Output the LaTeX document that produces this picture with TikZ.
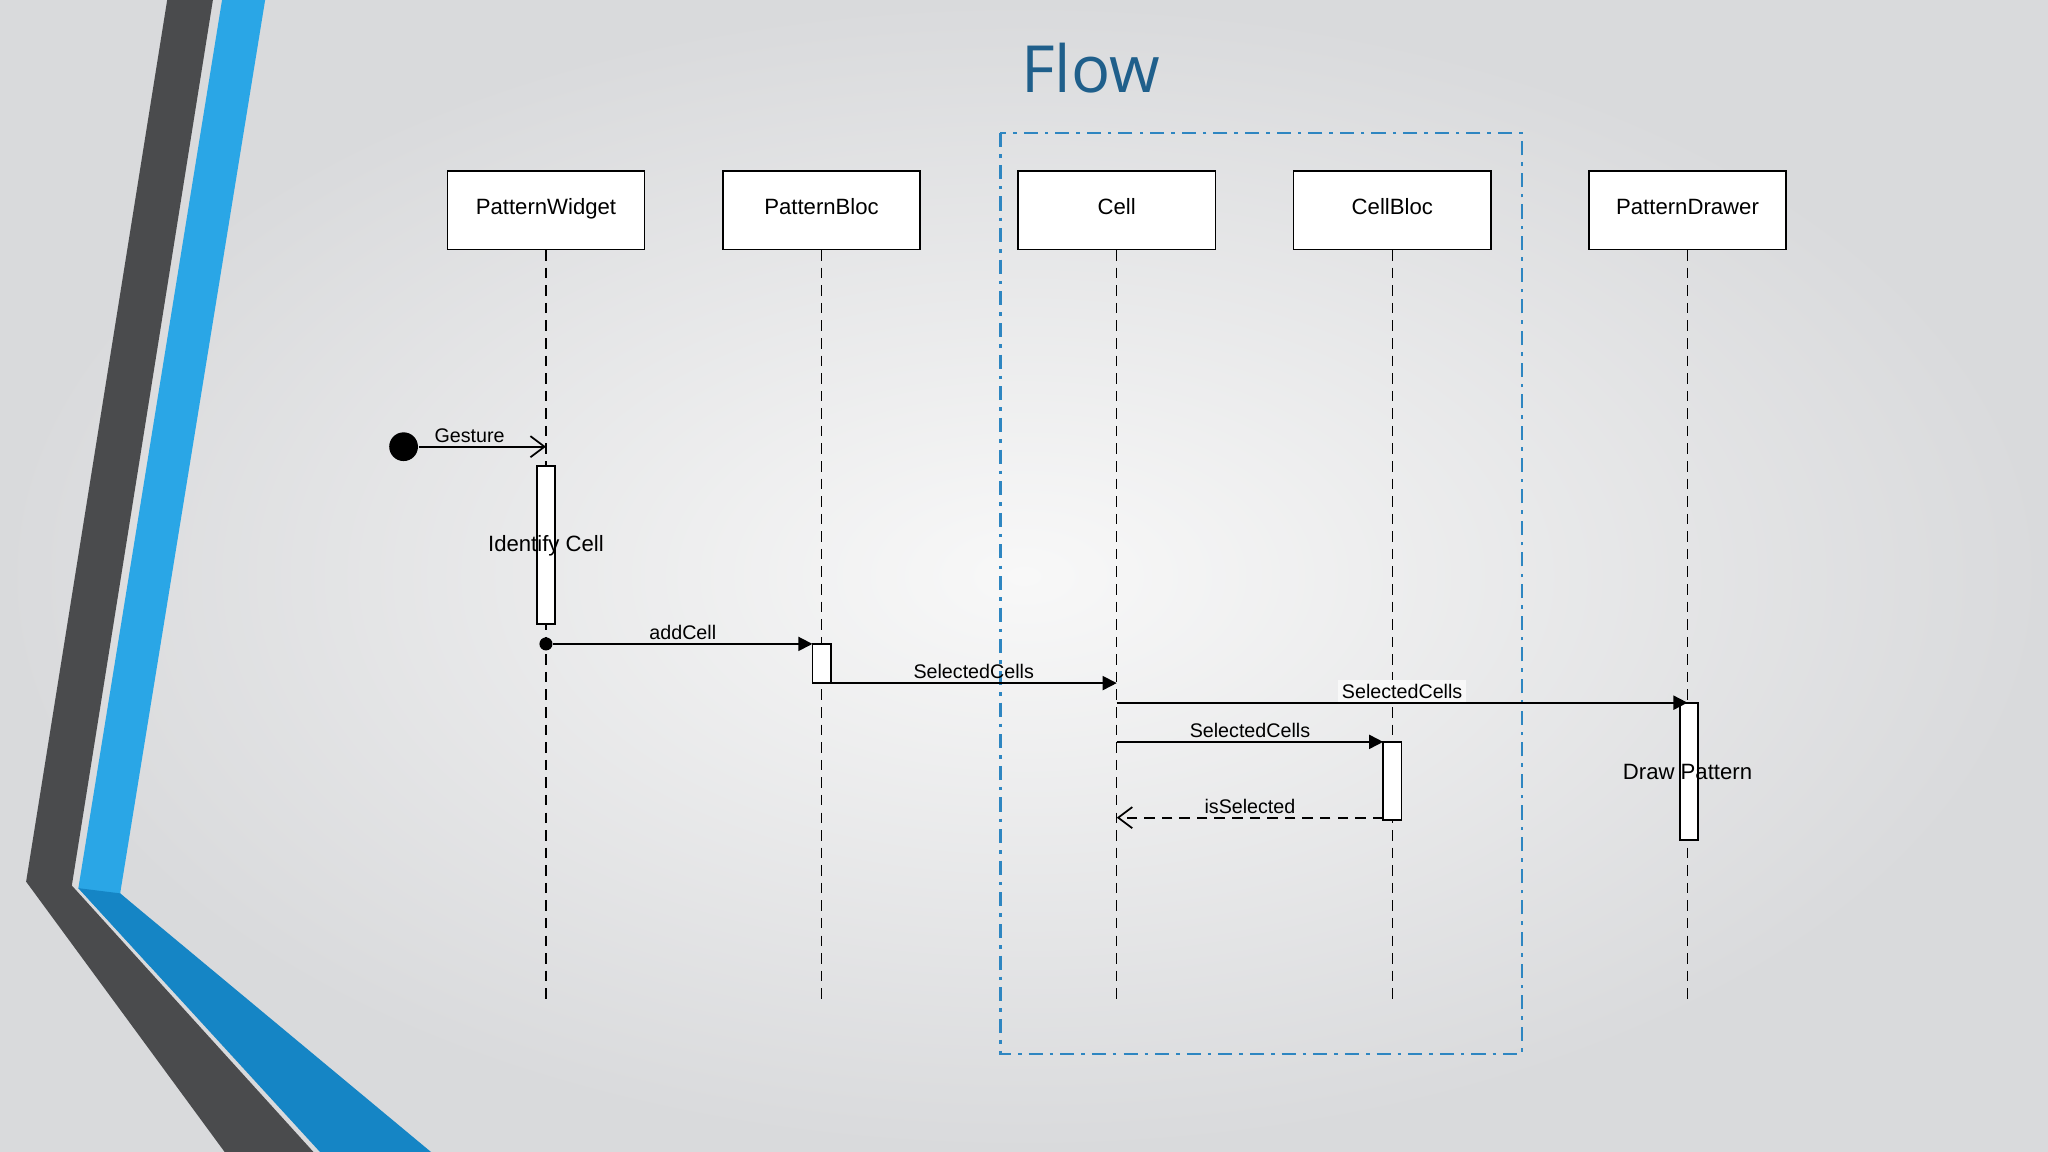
\documentclass[tikz,border=0pt]{standalone}
\usepackage{fontspec}
\setmainfont{Liberation Sans}
\newfontfamily\titlefont{Open Sans}
\usetikzlibrary{arrows.meta}
\definecolor{bgc}{HTML}{D9DADC}
\definecolor{bgl}{HTML}{F8F8F8}
\definecolor{dband}{HTML}{4A4B4D}
\definecolor{bband}{HTML}{2AA6E6}
\definecolor{bband2}{HTML}{1585C5}
\definecolor{ttl}{HTML}{1F5F8B}
\definecolor{frame}{HTML}{2E86C1}
\tikzset{
 obj/.style={draw=black,fill=white,minimum width=151*0.01306cm,minimum height=60*0.01306cm,inner sep=0pt,text height=3.8pt,text depth=1.5pt,font=\fontsize{6.3}{7}\selectfont},
 life/.style={dashed,dash pattern=on 3pt off 2pt,line width=0.4pt},
 act/.style={draw=black,fill=white,line width=0.5pt},
 msg/.style={line width=0.5pt,-{Triangle[length=4pt,width=4pt]}},
 ret/.style={line width=0.5pt,dashed,dash pattern=on 3pt off 2pt,-{Straight Barb[length=4pt,width=6pt]}},
 lbl/.style={font=\fontsize{5.6}{7}\selectfont,inner sep=1pt}
}
\begin{document}
\begin{tikzpicture}[x=0.01306cm,y=-0.01306cm]
\useasboundingbox (0,0) rectangle (1568,882);
\shade[inner color=bgl,outer color=bgc] (0,0) rectangle (1568,882);
% decorative bands
\fill[dband] (128,0)--(163,0)--(55,678)--(240,882)--(172,882)--(20,675)--cycle;
\fill[bband] (170,0)--(203,0)--(92,684)--(150,736)--(115,740)--(60,680)--cycle;
\fill[bband2] (60,680)--(92,684)--(330,882)--(245,882)--cycle;
\node[text=ttl,font=\titlefont\fontsize{18.5}{22}\selectfont] (title) at (835,52) {Flow};
% frame
\draw[frame,line width=0.6pt,dash pattern=on 4pt off 2pt on 1pt off 2pt] (766,102) rectangle (1165,807);
% objects
\foreach \n/\x/\t in {pw/418/PatternWidget,pb/629/PatternBloc,c/855/Cell,cb/1066/CellBloc,pd/1292/PatternDrawer}{
 \node[obj] (\n) at (\x,161) {\t};
 \coordinate (\n e) at (\x,765);
 \draw[life] (\n.south) -- (\n e);
}
% gesture
\node[circle,fill=black,minimum size=22*0.01306cm,inner sep=0pt] (g) at (309,342) {};
\coordinate (gt) at (418,342);
\draw[line width=0.5pt,-{Straight Barb[length=4pt,width=6pt]}] (g) -- node[lbl,above,pos=0.4] {Gesture} (gt);
% activations
\draw[act] (411,357) rectangle (425,478);
\node[font=\fontsize{6.3}{8}\selectfont] (ic) at (418,418) {Identify Cell};
\draw[act] (622,493) rectangle (636,523);
\draw[act] (1059,568) rectangle (1073,628);
\draw[act] (1286,538) rectangle (1300,643);
\node[font=\fontsize{6.3}{8}\selectfont] (dp) at (1292,591) {Draw Pattern};
% messages
\node[circle,fill=black,minimum size=10*0.01306cm,inner sep=0pt] (d) at (418,493) {};
\coordinate (a1) at (622,493);
\draw[msg] (d) -- node[lbl,above] {addCell} (a1);
\coordinate (s1a) at (636,523); \coordinate (s1b) at (855,523);
\draw[msg] (s1a) -- node[lbl,above] {SelectedCells} (s1b);
\coordinate (s2a) at (855,538); \coordinate (s2b) at (1292,538);
\draw[msg] (s2a) -- node[lbl,above,fill=bgl,pos=0.5] {SelectedCells} (s2b);
\coordinate (s3a) at (855,568); \coordinate (s3b) at (1059,568);
\draw[msg] (s3a) -- node[lbl,above] {SelectedCells} (s3b);
\coordinate (r1a) at (1059,626); \coordinate (r1b) at (855,626);
\draw[ret] (r1a) -- node[lbl,above] {isSelected} (r1b);
\end{tikzpicture}
\end{document}
